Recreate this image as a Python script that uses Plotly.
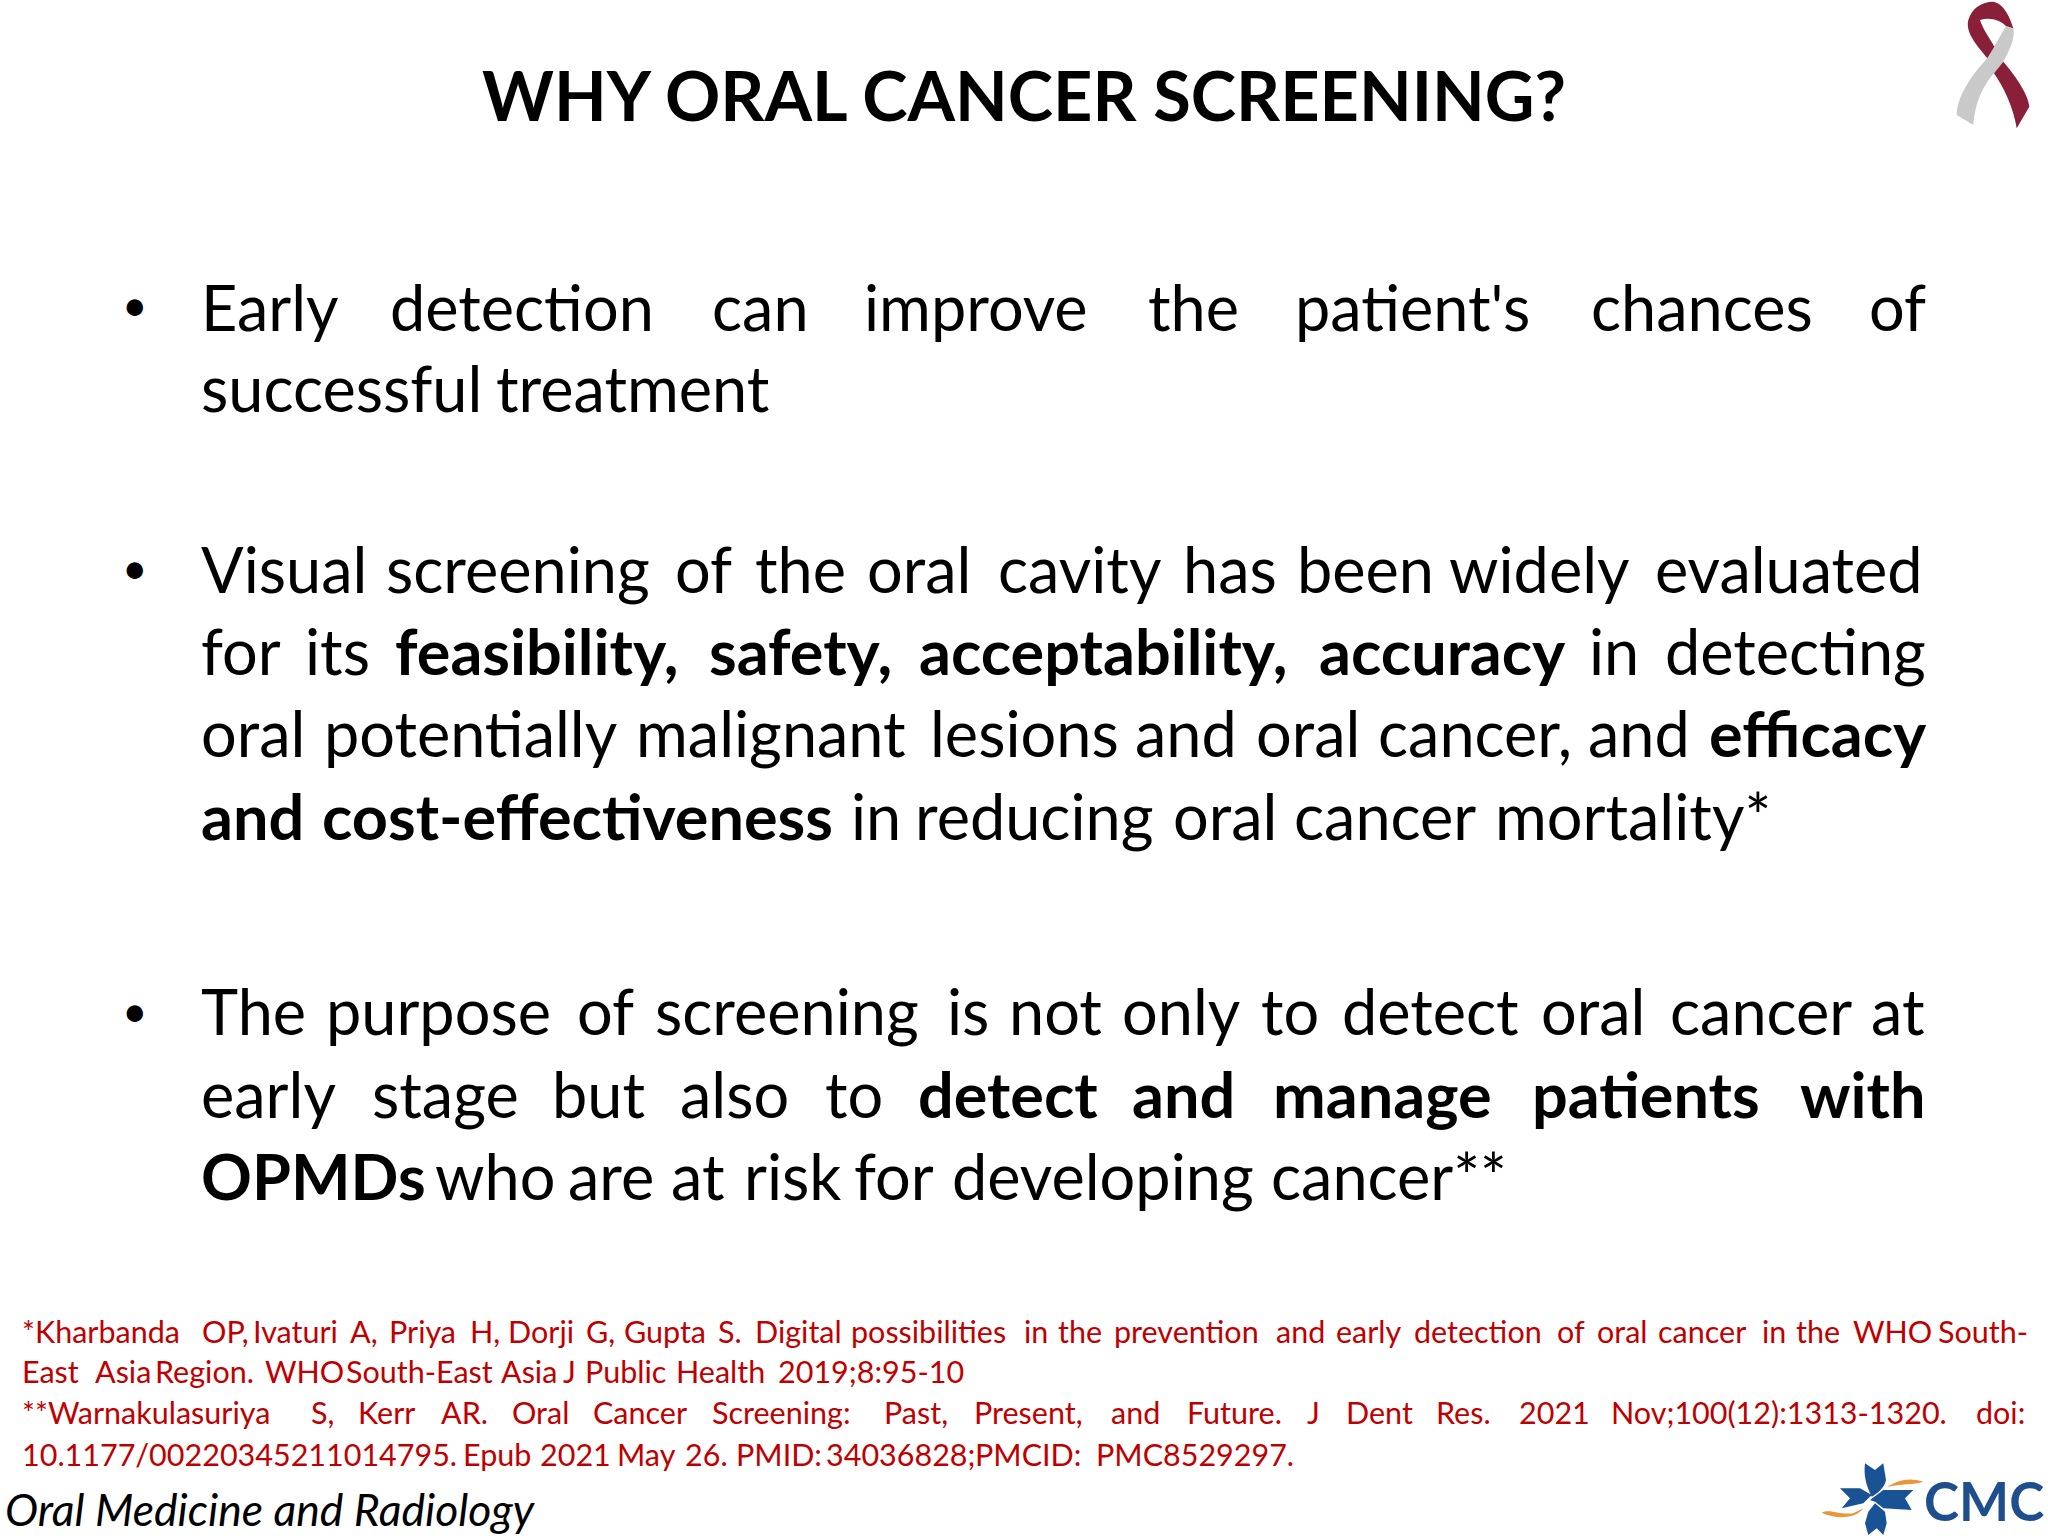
import plotly.graph_objects as go

S = 2048 / 1568
FONT = "Lato"

title = "WHY ORAL CANCER SCREENING?"
footer = "Oral Medicine and Radiology"
logo_text = "CMC"

# body text, one list of words per line, <b> marks the bold ones
body_words = [
    ["Early", "detection", "can", "improve", "the", "patient's", "chances", "of"],
    ["successful", "treatment"],
    ["Visual", "screening", "of", "the", "oral", "cavity", "has", "been", "widely", "evaluated"],
    ["for", "its", "<b>feasibility,</b>", "<b>safety,</b>", "<b>acceptability,</b>", "<b>accuracy</b>", "in", "detecting"],
    ["oral", "potentially", "malignant", "lesions", "and", "oral", "cancer,", "and", "<b>efficacy</b>"],
    ["<b>and</b>", "<b>cost-effectiveness</b>", "in", "reducing", "oral", "cancer", "mortality*"],
    ["The", "purpose", "of", "screening", "is", "not", "only", "to", "detect", "oral", "cancer", "at"],
    ["early", "stage", "but", "also", "to", "<b>detect</b>", "<b>and</b>", "<b>manage</b>", "<b>patients</b>", "<b>with</b>"],
    ["<b>OPMDs</b>", "who", "are", "at", "risk", "for", "developing", "cancer**"],
]
body_x = [
    [153, 298, 544, 661, 878, 991, 1217, 1430],
    [153, 379],
    [153, 295, 516, 577, 663, 763, 905, 992, 1109, 1266],
    [153, 233, 302, 542, 703, 1009, 1216, 1274],
    [153, 247, 486, 711, 868, 961, 1054, 1215, 1308],
    [153, 246, 651, 700, 897, 990, 1144],
    [153, 249, 441, 501, 724, 772, 858, 965, 1027, 1179, 1278, 1432],
    [153, 284, 422, 520, 631, 702, 866, 974, 1172, 1377],
    [153, 332, 434, 513, 569, 653, 728, 972],
]
body_y = [235, 297, 435, 498, 561, 624, 774, 837, 900]
bullet_y = [233, 434, 773]

# references
ref_words = [
    ["*Kharbanda", "OP,", "Ivaturi", "A,", "Priya", "H,", "Dorji", "G,", "Gupta", "S.", "Digital", "possibilities",
     "in", "the", "prevention", "and", "early", "detection", "of", "oral", "cancer", "in", "the", "WHO", "South-"],
    ["East", "Asia", "Region.", "WHO", "South-East", "Asia", "J", "Public", "Health", "2019;8:95-10"],
    ["**Warnakulasuriya", "S,", "Kerr", "AR.", "Oral", "Cancer", "Screening:", "Past,", "Present,", "and", "Future.",
     "J", "Dent", "Res.", "2021", "Nov;100(12):1313-1320.", "doi:"],
    ["10.1177/00220345211014795.", "Epub", "2021", "May", "26.", "PMID:", "34036828;", "PMCID:", "PMC8529297."],
]
ref_x = [
    [16, 154, 193, 267, 297, 359, 388, 448, 477, 549, 577, 651,
     783, 809, 852, 976, 1022, 1082, 1191, 1222, 1269, 1348, 1374, 1418, 1483],
    [16, 72, 118, 202, 264, 383, 430, 447, 517, 595],
    [16, 237, 273, 337, 391, 453, 544, 676, 745, 850, 908, 1000, 1030, 1099, 1162, 1233, 1512],
    [16, 354, 413, 472, 524, 563, 632, 746, 838],
]
ref_y = [1019, 1050, 1081, 1113]

annotations = []


def add_text(text, x, y, size, color="black", anchor="left"):
    annotations.append(dict(text=text, x=x * S, y=y * S, xref="x", yref="y", showarrow=False,
                            xanchor=anchor, yanchor="middle", borderpad=0,
                            font=dict(family=FONT, size=size, color=color)))


add_text("<b>%s</b>" % title, 784, 72, 68.5, anchor="center")
for y in bullet_y:
    add_text("•", 103, y, 44, anchor="center")
for words, xs, y in zip(body_words, body_x, body_y):
    for word, x in zip(words, xs):
        add_text(word, x, y, 63)
for words, xs, y in zip(ref_words, ref_x, ref_y):
    for word, x in zip(words, xs):
        add_text(word, x, y, 30.5, color="#c00000")
add_text("<i>%s</i>" % footer, 3, 1155, 44.5)
add_text("<b>%s</b>" % logo_text, 1472, 1149, 53, color="#1f4e8c")

# ribbon and logo outlines, traced in crop pixels (3x) from their corner
ribbon_maroon = [
    "M205,60 C215,25 245,5 280,5 C310,10 330,50 340,85 L318,78 C300,60 270,50 240,60 C250,90 270,115 283,140 L262,175 C235,140 195,100 205,60 Z",
    "M310,185 C340,220 385,280 388,320 L350,385 C340,320 310,260 282,220 Z",
]
ribbon_silver = ["M318,78 L340,85 C345,110 335,140 310,185 L282,220 C255,250 225,300 220,375 L170,345 C170,290 215,225 262,175 Z"]
logo_blue = [
    "M195,70 L225,90 L250,70 L258,120 C255,140 235,160 215,170 C200,140 190,110 195,70 Z",
    "M210,180 L250,150 L340,150 L315,175 L335,210 L250,205 L225,185 Z",
    "M225,190 L255,215 L260,250 L250,285 L230,265 L205,285 L195,250 L205,215 Z",
    "M120,145 L180,145 L215,165 L190,190 L125,205 L150,175 Z",
]
logo_orange = [
    "M262,142 C290,120 330,112 370,125 C345,135 300,130 262,142 Z",
    "M65,218 C90,205 115,225 160,220 L190,205 C170,235 110,240 65,218 Z",
]


def crop_path(path, x0, y0):
    # move the crop outline to page pixels
    out = []
    for part in path.split(" "):
        cmd = part[0] if part[0].isalpha() else ""
        nums = part[len(cmd):]
        if nums:
            a, b = nums.split(",")
            out.append("%s%.1f,%.1f" % (cmd, x0 + float(a) / 3, y0 + float(b) / 3))
        else:
            out.append(cmd)
    return " ".join(out)


shapes = []
for group, x0, y0, color in [
    (ribbon_silver, 1900, 0, "#c9c9c9"),
    (ribbon_maroon, 1900, 0, "#8a1f3a"),
    (logo_blue, 1800, 1440, "#1a5296"),
    (logo_orange, 1800, 1440, "#e8973a"),
]:
    for p in group:
        shapes.append(dict(type="path", path=crop_path(p, x0, y0), xref="x", yref="y",
                           fillcolor=color, line=dict(width=0)))

fig = go.Figure()
fig.update_layout(
    width=2048, height=1536,
    margin=dict(l=0, r=0, t=0, b=0),
    paper_bgcolor="white", plot_bgcolor="white",
    xaxis=dict(range=[0, 2048], visible=False, fixedrange=True),
    yaxis=dict(range=[1536, 0], visible=False, fixedrange=True),
    annotations=annotations,
    shapes=shapes,
)
# the browser's default body margin would push the whole slide off by 8px
fig.write_html("out.html", config=dict(displayModeBar=False),
               post_script="document.body.style.margin = '0';")
